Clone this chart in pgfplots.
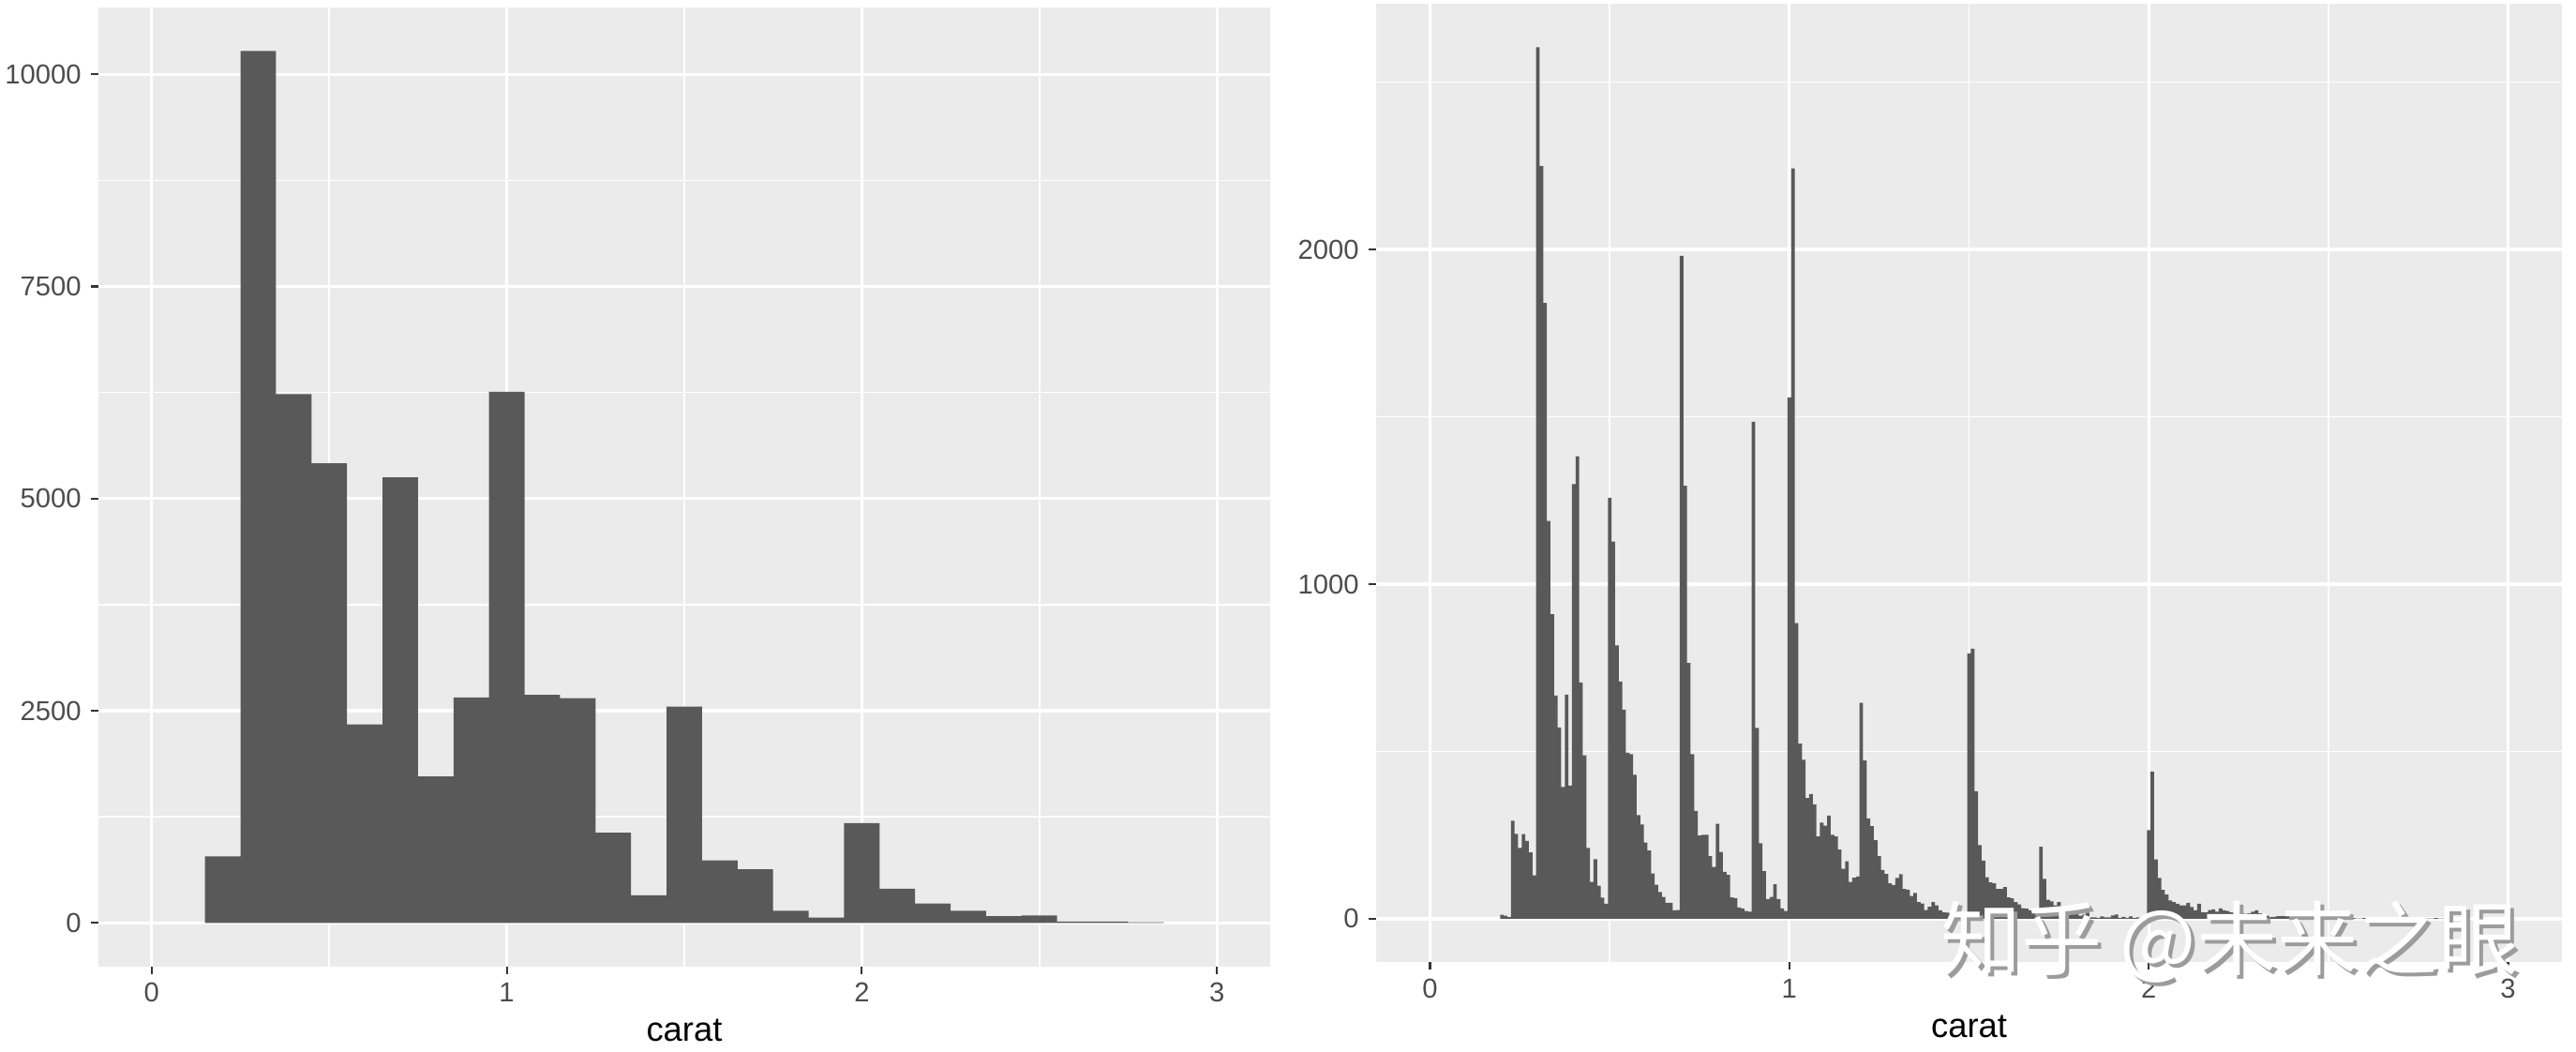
\documentclass[border=0pt]{standalone}
\usepackage{pgfplots}
\usepackage{pgfplotstable}
\pgfplotsset{compat=1.18}
\usepackage{fontspec}
\setmainfont{Liberation Sans}
\newfontfamily\cjk{Noto Sans CJK SC}
\definecolor{panelbg}{HTML}{EBEBEB}
\definecolor{barc}{HTML}{595959}
\definecolor{ticklab}{HTML}{4D4D4D}
\definecolor{tickc}{HTML}{333333}
\definecolor{shadow}{HTML}{9C9C9C}

% left panel: binwidth 0.1, bin left edge and count (last row closes the last bin)
\pgfplotstableread{
left n
0.15 785
0.25 10273
0.35 6231
0.45 5417
0.55 2340
0.65 5249
0.75 1725
0.85 2656
0.95 6258
1.05 2687
1.15 2648
1.25 1063
1.35 326
1.45 2550
1.55 738
1.65 631
1.75 142
1.85 63
1.95 1177
2.05 403
2.15 229
2.25 142
2.35 79
2.45 87
2.55 16
2.65 16
2.75 8
2.85 8
}\coarse

% right panel: binwidth 0.01, bin centre and count (last row closes the last bin)
\pgfplotstableread{
c n
0.20 12
0.21 9
0.22 5
0.23 293
0.24 254
0.25 212
0.26 253
0.27 233
0.28 198
0.29 130
0.30 2604
0.31 2249
0.32 1840
0.33 1189
0.34 910
0.35 667
0.36 572
0.37 394
0.38 670
0.39 398
0.40 1299
0.41 1382
0.42 706
0.43 488
0.44 212
0.45 110
0.46 178
0.47 99
0.48 63
0.49 45
0.50 1258
0.51 1127
0.52 817
0.53 709
0.54 625
0.55 496
0.56 492
0.57 430
0.58 310
0.59 282
0.60 228
0.61 204
0.62 135
0.63 102
0.64 80
0.65 65
0.66 48
0.67 48
0.68 25
0.69 26
0.70 1981
0.71 1294
0.72 764
0.73 492
0.74 322
0.75 249
0.76 251
0.77 251
0.78 187
0.79 155
0.80 284
0.81 200
0.82 140
0.83 131
0.84 64
0.85 62
0.86 34
0.87 31
0.88 23
0.89 21
0.90 1485
0.91 570
0.92 226
0.93 142
0.94 59
0.95 65
0.96 103
0.97 59
0.98 31
0.99 23
1.00 1558
1.01 2242
1.02 883
1.03 523
1.04 475
1.05 361
1.06 373
1.07 342
1.08 246
1.09 287
1.10 278
1.11 308
1.12 251
1.13 246
1.14 207
1.15 149
1.16 172
1.17 110
1.18 123
1.19 126
1.20 645
1.21 473
1.22 300
1.23 277
1.24 235
1.25 187
1.26 146
1.27 134
1.28 106
1.29 101
1.30 122
1.31 133
1.32 89
1.33 87
1.34 68
1.35 77
1.36 50
1.37 46
1.38 26
1.39 36
1.40 50
1.41 40
1.42 25
1.43 19
1.44 18
1.45 16
1.46 12
1.47 21
1.48 7
1.49 11
1.50 793
1.51 807
1.52 381
1.53 220
1.54 174
1.55 124
1.56 109
1.57 106
1.58 89
1.59 89
1.60 95
1.61 64
1.62 61
1.63 50
1.64 43
1.65 32
1.66 30
1.67 25
1.68 19
1.69 24
1.70 215
1.71 119
1.72 57
1.73 52
1.74 40
1.75 50
1.76 28
1.77 18
1.78 12
1.79 15
1.80 21
1.81 9
1.82 13
1.83 18
1.84 4
1.85 4
1.86 3
1.87 7
1.88 4
1.89 4
1.90 10
1.91 13
1.92 3
1.93 6
1.94 3
1.95 7
1.96 3
1.97 4
1.98 5
1.99 3
2.00 265
2.01 440
2.02 177
2.03 122
2.04 86
2.05 72
2.06 55
2.07 50
2.08 45
2.09 40
2.10 40
2.11 48
2.12 35
2.13 25
2.14 45
2.15 20
2.16 19
2.17 26
2.18 28
2.19 21
2.20 31
2.21 25
2.22 23
2.23 19
2.24 16
2.25 19
2.26 16
2.27 15
2.28 16
2.29 21
2.30 25
2.31 16
2.32 13
2.33 9
2.34 5
2.35 6
2.36 8
2.37 8
2.38 8
2.39 12
2.40 13
2.41 8
2.42 8
2.43 5
2.44 5
2.45 4
2.46 4
2.47 4
2.48 8
2.49 6
2.50 17
2.51 17
2.52 10
2.53 8
2.54 9
2.55 4
2.56 2
2.57 2
2.58 1
2.59 1
2.60 2
2.61 1
2.62 1
2.63 2
2.64 1
2.65 3
2.66 1
2.67 2
2.68 1
2.69 1
2.70 3
2.71 1
2.72 2
2.73 1
2.74 2
2.75 2
2.76 1
2.77 1
2.78 1
2.79 1
2.80 2
2.81 1
2.82 1
2.83 1
}\fine

\pgfplotsset{
  gg/.style={
    scale only axis,
    anchor=south west,
    axis background/.style={fill=panelbg},
    axis line style={draw=none},
    xmajorgrids, ymajorgrids, xminorgrids, yminorgrids,
    major grid style={white, line width=0.8pt},
    minor grid style={white, line width=0.4pt},
    tick align=outside,
    xtick pos=bottom, ytick pos=left,
    major tick length=2pt,
    minor tick length=0pt,
    tick style={color=tickc, line width=0.55pt},
    /pgf/number format/assume math mode=true,
    tick label style={font=\fontsize{7.3}{8}\selectfont, text=ticklab},
    xmin=-0.15, xmax=3.15,
    xtick={0,1,2,3}, xticklabels={0,1,2,3},
    minor xtick={0.5,1.5,2.5},
    xticklabel style={anchor=north, inner sep=0pt, yshift=-2.2pt},
    yticklabel style={anchor=east, inner sep=0pt, xshift=-2.4pt},
    xlabel={carat},
    xlabel style={font=\fontsize{9.1}{10}\selectfont, text=black,
      at={(axis description cs:0.5,0)}, anchor=base, inner sep=0pt},
  }
}

\begin{document}
\begin{tikzpicture}
\useasboundingbox (0,0) rectangle (687pt,280.5pt);
\fill[white] (0,0) rectangle (687pt,280.5pt);

\begin{axis}[gg,
  at={(26.25pt,22.8pt)}, width=312.5pt, height=255.7pt,
  ymin=-513.6, ymax=10786.7,
  ytick={0,2500,5000,7500,10000}, yticklabels={0,2500,5000,7500,10000},
  minor ytick={1250,3750,6250,8750},
  xlabel style={yshift=-19.8pt},
]
\addplot[fill=barc, draw=none, const plot mark left] table[x=left, y=n] {\coarse} \closedcycle;
\end{axis}

\begin{axis}[gg,
  at={(367pt,23.9pt)}, width=316.25pt, height=255.6pt,
  ymin=-130.2, ymax=2734.2,
  ytick={0,1000,2000}, yticklabels={0,1000,2000},
  minor ytick={500,1500,2500},
  xlabel style={yshift=-20.15pt},
]
\addplot[fill=barc, draw=none, const plot mark left] table[x expr=\thisrow{c}-0.005, y=n] {\fine} \closedcycle;
\end{axis}

\node[font=\cjk\fontsize{21.5}{22}\selectfont, text=shadow, anchor=center] at (595.7pt,28.3pt) {知乎 @未来之眼};
\node[font=\cjk\fontsize{21.5}{22}\selectfont, text=white, anchor=center] at (594.75pt,29.25pt) {知乎 @未来之眼};
\end{tikzpicture}
\end{document}
